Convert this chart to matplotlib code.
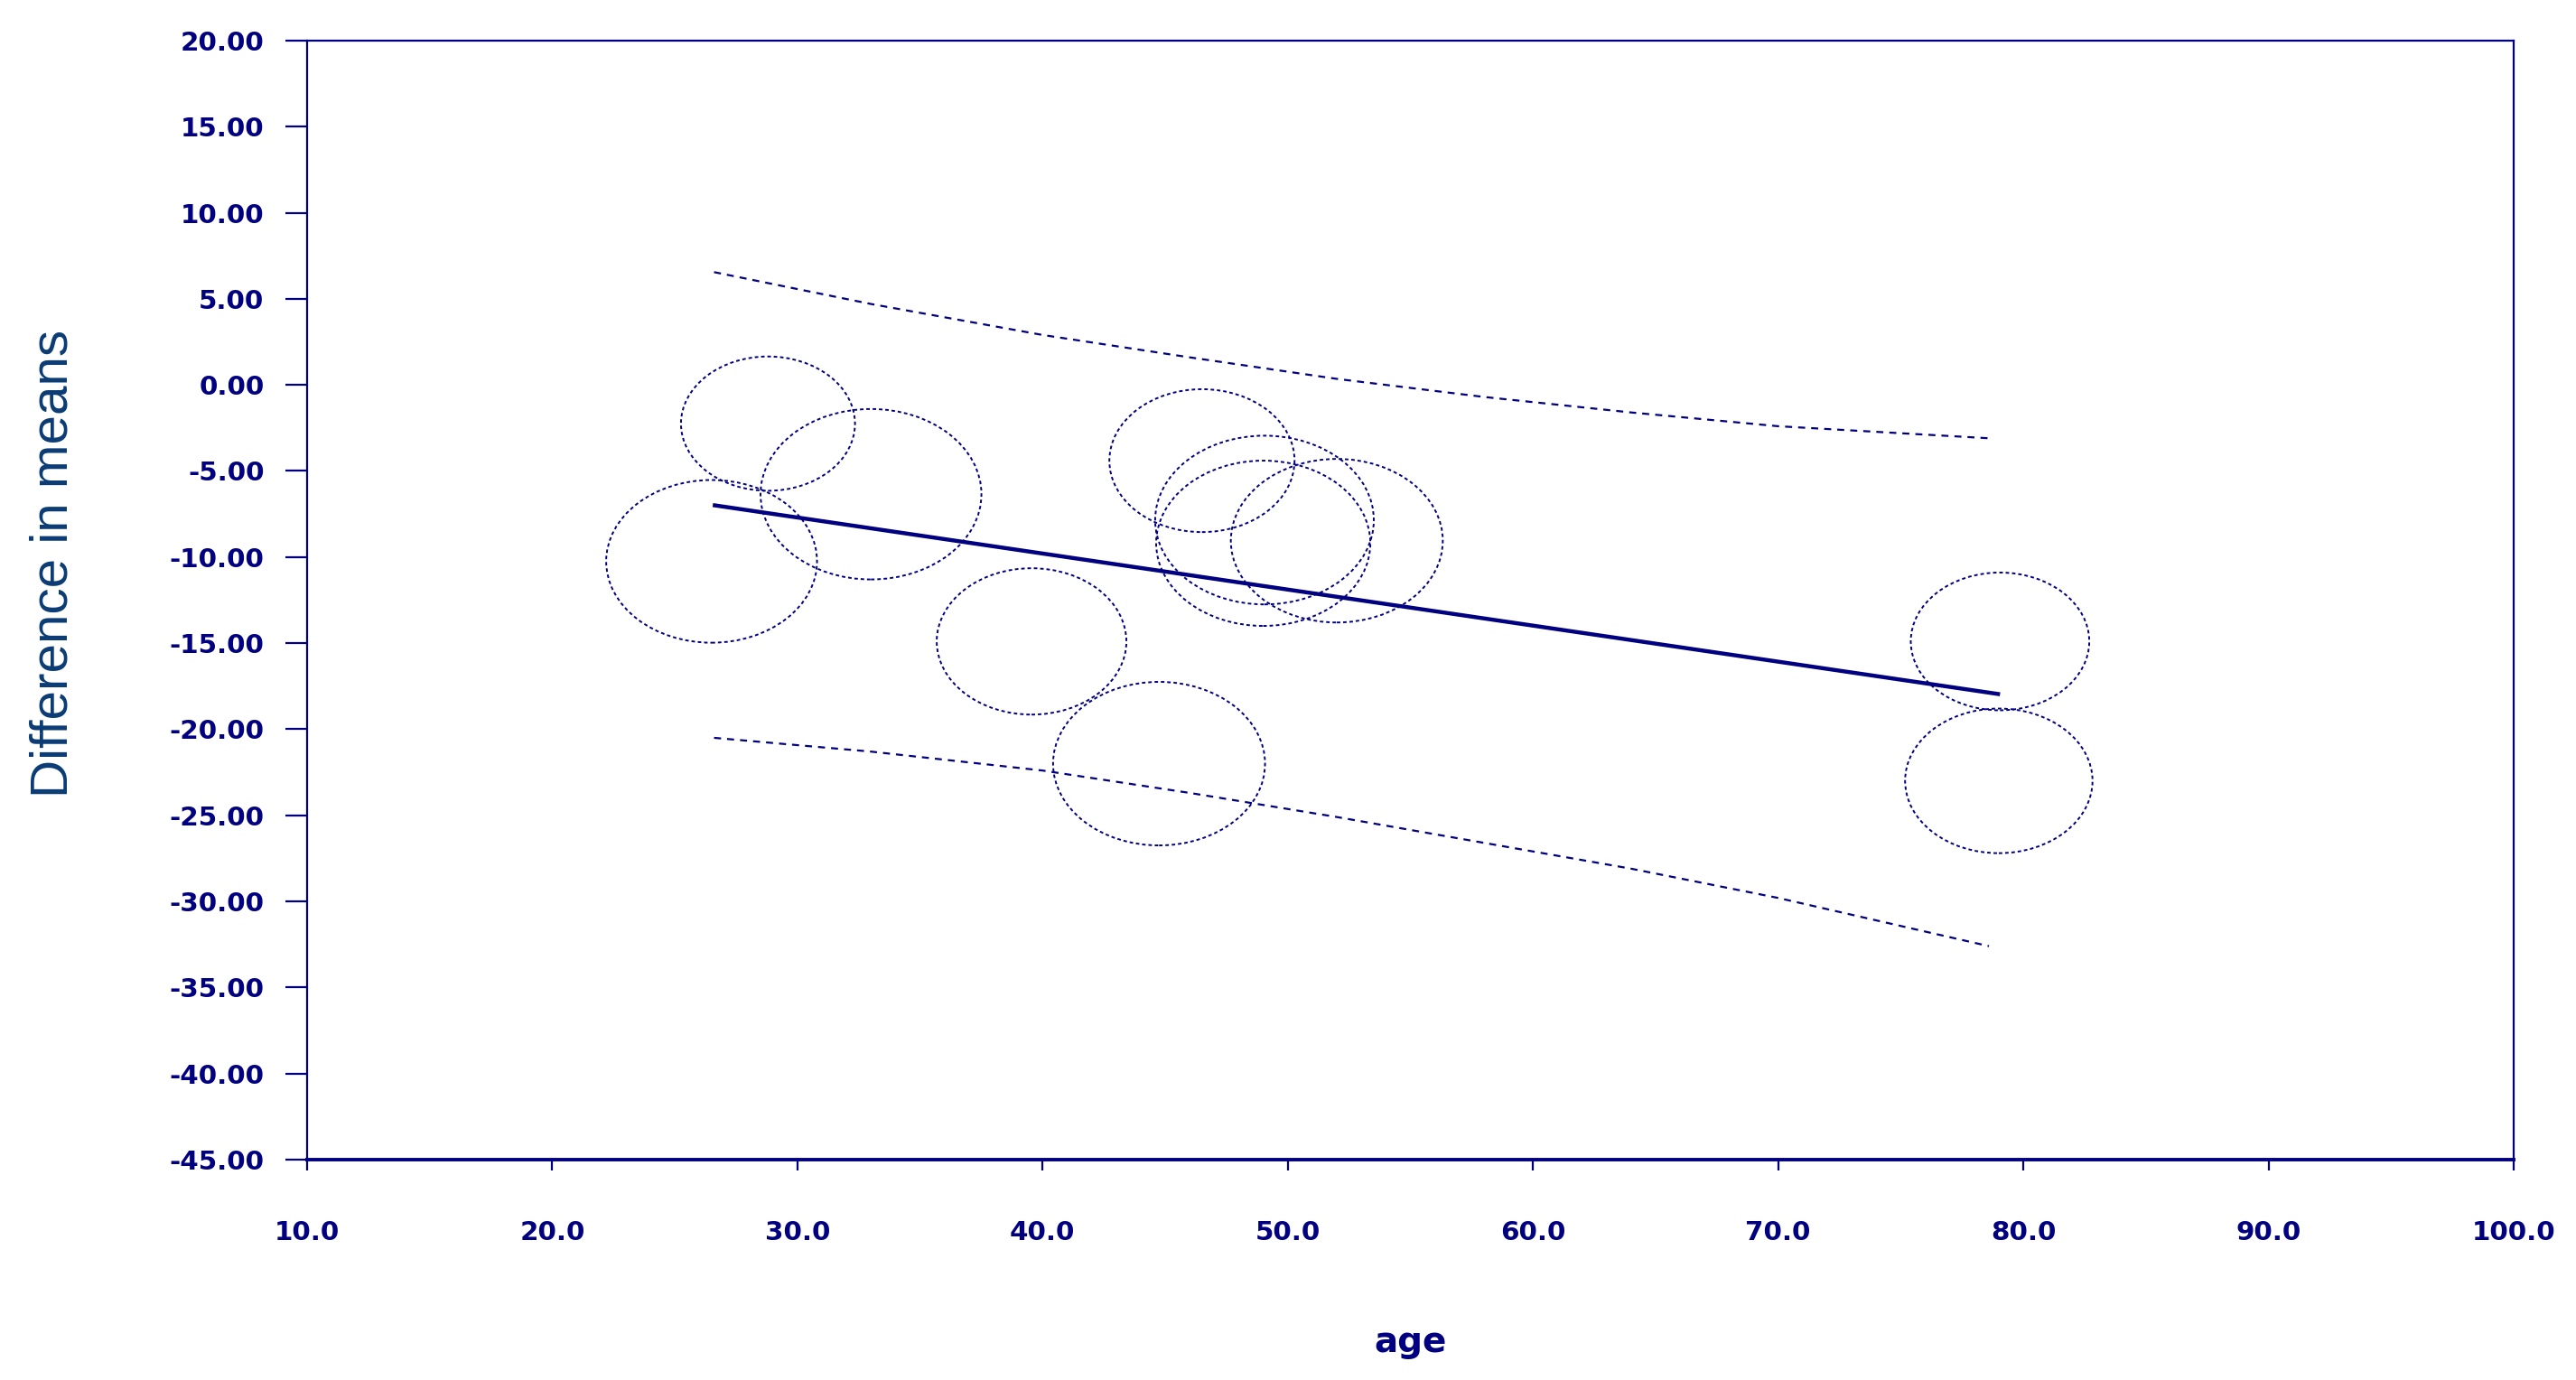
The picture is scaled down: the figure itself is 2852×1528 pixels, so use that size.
import matplotlib
matplotlib.use("Agg")
import matplotlib.pyplot as plt
from matplotlib.patches import Ellipse

# ---- data ----
study_age = [28.8, 33.0, 26.5, 39.55, 44.75, 46.5, 49.05, 49.0, 52.0, 79.05, 79.0]
study_diff = [-2.25, -6.35, -10.25, -14.9, -22.0, -4.4, -7.85, -9.2, -9.05, -14.9, -23.0]
study_weight = [7.8, 9.9, 9.45, 8.5, 9.5, 8.3, 9.8, 9.6, 9.5, 8.0, 8.4]

reg_x = [26.55, 79.05]
reg_y = [-6.98, -17.97]

ci_x = [26.6, 33.0, 40.0, 46.0, 52.0, 58.0, 64.0, 70.0, 78.6]
ci_upper = [6.55, 4.7, 2.9, 1.6, 0.35, -0.7, -1.6, -2.4, -3.1]
ci_lower = [-20.5, -21.3, -22.4, -23.7, -25.1, -26.6, -28.1, -29.8, -32.6]

x_ticks = [10, 20, 30, 40, 50, 60, 70, 80, 90, 100]
y_ticks = [20, 15, 10, 5, 0, -5, -10, -15, -20, -25, -30, -35, -40, -45]

NAVY = "#000080"
LABEL_BLUE = "#0B3B74"

fig = plt.figure(figsize=(14.26, 7.64), dpi=200)
ax = fig.add_axes([0.1192, 0.1597, 0.8566, 0.8109])

ax.set_xlim(10, 100)
ax.set_ylim(-45, 20)

# bubbles (ellipses in data space, width scaled to match the picture's aspect)
for xa, yd, w in zip(study_age, study_diff, study_weight):
    e = Ellipse((xa, yd), width=w * 0.91, height=w, fill=False,
                edgecolor=NAVY, linewidth=0.7, linestyle=(0, (2, 1.6)))
    ax.add_patch(e)

# regression line and confidence band
ax.plot(reg_x, reg_y, color=NAVY, linewidth=1.6, solid_capstyle="butt")
ax.plot(ci_x, ci_upper, color=NAVY, linewidth=0.8, linestyle=(0, (3.5, 3)))
ax.plot(ci_x, ci_lower, color=NAVY, linewidth=0.8, linestyle=(0, (3.5, 3)))

# axes styling
for side in ["top", "right", "left"]:
    ax.spines[side].set_color(NAVY)
    ax.spines[side].set_linewidth(0.8)
ax.spines["bottom"].set_color(NAVY)
ax.spines["bottom"].set_linewidth(1.4)

ax.set_xticks(x_ticks)
ax.set_xticklabels([f"{v:.1f}" for v in x_ticks])
ax.set_yticks(y_ticks)
ax.set_yticklabels([f"{v:.2f}" for v in y_ticks])

ax.tick_params(axis="y", direction="out", length=8.6, width=0.8, color=NAVY,
               pad=8.5, labelcolor=NAVY)
ax.tick_params(axis="x", direction="out", length=4.3, width=0.8, color=NAVY,
               pad=20, labelcolor=NAVY)
for lab in ax.get_xticklabels() + ax.get_yticklabels():
    lab.set_fontfamily("DejaVu Sans")
    lab.set_fontweight("bold")
    lab.set_fontsize(10.6)

ax.set_ylabel("Difference in means", fontsize=21, color=LABEL_BLUE,
              fontfamily="Liberation Sans", va="center", ha="center")
ax.yaxis.set_label_coords(-0.1146, 0.533)
ax.set_xlabel("age", fontsize=14, fontweight="bold", color=NAVY,
              fontfamily="DejaVu Sans", va="center", ha="center")
ax.xaxis.set_label_coords(0.5, -0.163)

fig.savefig("out.png", dpi=200)
